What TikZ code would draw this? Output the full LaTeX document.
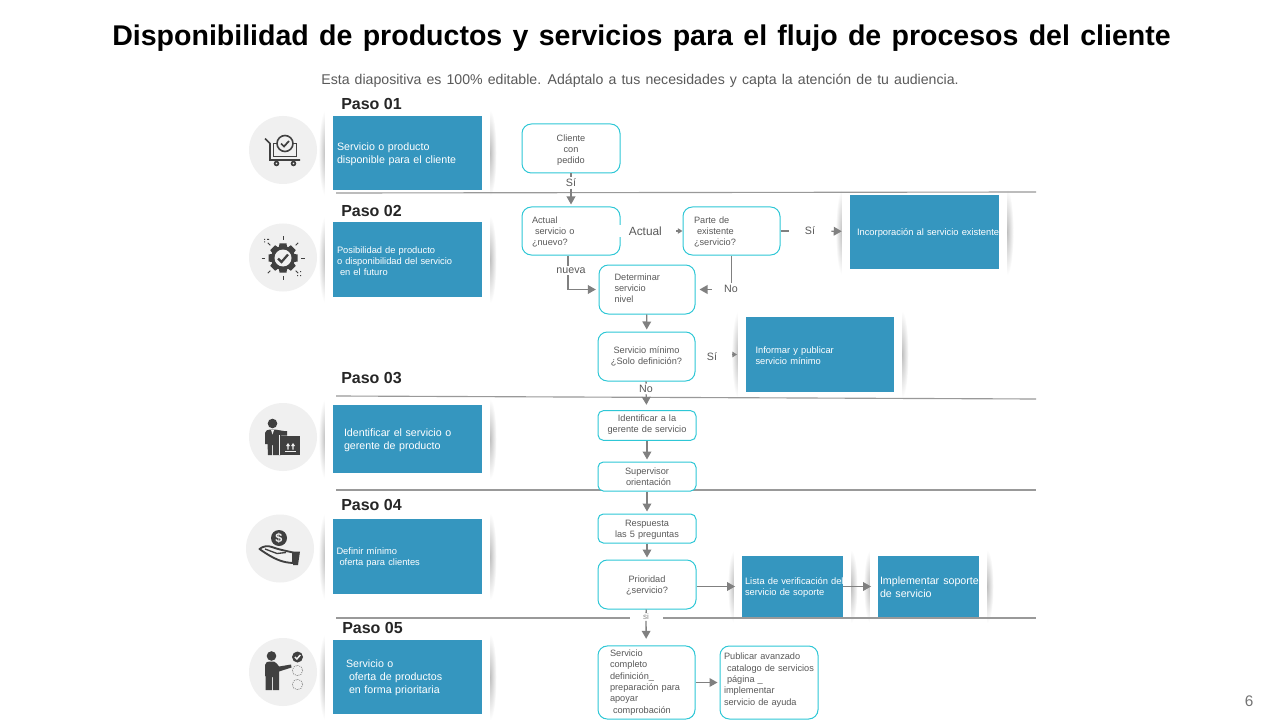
\documentclass[tikz,border=0pt]{standalone}
\usepackage{fontspec}
\setmainfont{Liberation Sans}
\newfontfamily\ttlfont[WordSpace=1.5]{Liberation Sans}
\newfontfamily\subfont[WordSpace=1.3]{Liberation Sans}
\usetikzlibrary{arrows.meta,calc,shapes.geometric}
\definecolor{bluebx}{HTML}{3596BF}
\definecolor{cyanbd}{HTML}{2EC7D6}
\definecolor{txtgray}{HTML}{595959}
\definecolor{linegray}{HTML}{808080}
\definecolor{rulegray}{HTML}{999999}
\definecolor{iconbg}{HTML}{F0F0F0}
\definecolor{icondark}{HTML}{404040}
\def\px{0.75pt}
\newcommand{\ind}{\hspace*{2.25pt}}
\newcommand{\fnt}[2]{\fontsize{#1pt}{#2pt}\selectfont}
\newcommand{\sideglow}[4]{%
 \shade[inner color=black!25,outer color=white] (#1-8,{(#3+#4)/2}) ellipse [x radius=6.5,y radius={(#4-#3)/2}];
 \shade[inner color=black!25,outer color=white] (#2+8,{(#3+#4)/2}) ellipse [x radius=6.5,y radius={(#4-#3)/2}];
 \fill[white] (#1-8,#3) rectangle (#2+8,#4);}
\tikzset{
 headroom/.style={execute at begin node={\leavevmode\rule{0pt}{#1pt}}},
 footroom/.style={execute at begin node={\leavevmode},execute at end node={\rule[-#1pt]{0pt}{#1pt}}},
 bluebox/.style n args={3}{rectangle,fill=bluebx,text=white,minimum width=#1*\px,minimum height=#2*\px,
   text width=(#1-2*#3)*\px,inner xsep=#3*\px,inner ysep=0pt,align=left,font=\fnt{7}{8.25},headroom=7.4},
 bigtext/.style={font=\fnt{8}{9.75}},
 flowbox/.style n args={3}{rectangle,draw=cyanbd,fill=white,line width=0.75pt,rounded corners=7pt,text=txtgray,
   minimum width=#1*\px,minimum height=#2*\px,text width=(#1-2*#3)*\px,inner xsep=#3*\px,inner ysep=0pt,
   align=left,font=\fnt{6.9}{8.25},headroom=7.8},
 smallr/.style={rounded corners=4pt},
 steplabel/.style={font=\fnt{12}{14}\bfseries,text=black!85,anchor=west,inner sep=0pt},
 lab/.style={text=txtgray,font=\fnt{8}{9.5},inner xsep=0pt,inner ysep=1pt,fill=white},
 conn/.style={draw=linegray,line width=1pt},
 flow/.style={conn,-{Triangle[length=6pt,width=6.5pt]},shorten >=1.5pt},
 tinyflow/.style={conn,-{Triangle[length=3.5pt,width=4pt]}},
 rulel/.style={draw=rulegray,line width=0.85pt},
 badge/.style={fill=iconbg},
 inkline/.style={draw=icondark,line width=1.2pt},
}
\begin{document}
\begin{tikzpicture}[x=0.75pt,y=-0.75pt]
\path[use as bounding box,fill=white] (0,0) rectangle (1280,720);
% texts on top
\node[inner sep=0pt,font=\ttlfont\fnt{21.4}{25}\bfseries,text=black] (title) at (641.5,38) {Disponibilidad de productos y servicios para el flujo de procesos del cliente};
\node[inner sep=0pt,font=\subfont\fnt{10.6}{13},text=txtgray] (subtitle) at (640,81) {Esta diapositiva es 100\% editable. Adáptalo a tus necesidades y capta la atención de tu audiencia.};
\node[inner sep=0pt,font=\fnt{11.5}{14},text=black!55] (pageno) at (1249,701) {6};
% side shadows
\sideglow{333}{482}{110}{196}
\sideglow{333}{482}{216}{303}
\sideglow{333}{482}{399}{479}
\sideglow{333}{482}{513}{600}
\sideglow{333}{482}{634}{720}
\sideglow{850}{999}{189}{275}
\sideglow{746}{894}{311}{398}
\sideglow{742}{843}{550}{623}
\sideglow{878}{979}{550}{623}
% rules
\coordinate (r1a) at (336,193); \coordinate (r1b) at (1036,192);
\coordinate (r2a) at (336,396); \coordinate (r2b) at (1036,399);
\coordinate (r3a) at (336,490); \coordinate (r3b) at (1036,490);
\coordinate (r4a) at (336,618); \coordinate (r4b) at (1036,618);
\draw[rulel] (r1a) -- (r1b);
\draw[rulel] (r2a) -- (r2b);
\draw[rulel] (r3a) -- (r3b);
\draw[rulel] (r4a) -- (r4b);
% step labels
\node[steplabel] (p1) at (341,103.5) {Paso 01};
\node[steplabel] (p2) at (341,211) {Paso 02};
\node[steplabel] (p3) at (341,378) {Paso 03};
\node[steplabel] (p4) at (341,505) {Paso 04};
\node[steplabel] (p5) at (342,628) {Paso 05};
% blue boxes
\node[bluebox={149}{74}{4},bigtext] (b1) at (407.5,153) {Servicio o producto\\disponible para el cliente};
\node[bluebox={149}{75}{4},headroom=5.9] (b2) at (407.5,259.5) {Posibilidad de producto\\o disponibilidad del servicio\\\ind{}en el futuro};
\node[bluebox={149}{68}{11},bigtext] (b3) at (407.5,439) {Identificar el servicio o\\gerente de producto};
\node[bluebox={149}{75}{3.5}] (b4) at (407.5,556.5) {Definir mínimo\\\ind{}oferta para clientes};
\node[bluebox={149}{74}{13},bigtext] (b5) at (407.5,677) {Servicio o\\\ind{}oferta de productos\\\ind{}en forma prioritaria};
\node[bluebox={149}{74}{7}] (binc) at (924.5,232) {\mbox{Incorporación al servicio existente}};
\node[bluebox={148}{75}{9.5},headroom=5.9] (binf) at (820,354.5) {Informar y publicar\\servicio mínimo};
\node[bluebox={101}{61}{3}] (blis) at (792.5,586.5) {\mbox{Lista de verificación del}\\servicio de soporte};
\node[bluebox={101}{61}{2},bigtext] (bimp) at (928.5,586.5) {\mbox{Implementar\hspace{3pt}soporte}\\de servicio};
% flow boxes
\node[flowbox={98}{49}{5},align=center] (fcli) at (571,148.5) {Cliente\\con\\pedido};
\node[flowbox={98}{48}{10},footroom=3] (fact) at (571,231) {Actual\\\ind{}servicio o\\¿nuevo?};
\node[flowbox={97}{48}{11},footroom=3] (fpar) at (731.5,231) {Parte de\\\ind{}existente\\¿servicio?};
\node[flowbox={96}{49}{15.5},footroom=4.5] (fdet) at (647,289.5) {Determinar\\servicio\\nivel};
\node[flowbox={97}{49}{3},align=center,footroom=3.9,font=\fnt{6.9}{7.9}] (fmin) at (646.5,356.5) {Servicio mínimo\\¿Solo definición?};
\node[flowbox={98}{29}{3},smallr,align=center,footroom=6.2] (fida) at (647,425.5) {Identificar a la\\gerente de servicio};
\node[flowbox={98}{29}{3},smallr,align=center,footroom=3] (fsup) at (647,476.5) {Supervisor\\\ind{}orientación};
\node[flowbox={98}{29}{3},smallr,align=center,footroom=3] (fres) at (647,528.5) {Respuesta\\las 5 preguntas};
\node[flowbox={98}{49}{3},align=center,footroom=3] (fpri) at (647,584.5) {Prioridad\\¿servicio?};
\node[flowbox={97}{73}{12},font=\fnt{6.9}{8.5},footroom=4.5] (fcom) at (646.5,682.5) {Servicio\\completo\\definición\_\\preparación para\\apoyar\\\ind{}comprobación};
\node[flowbox={98}{73}{4},font=\fnt{6.9}{8.5},footroom=7.7] (fpub) at (769,682.5) {Publicar avanzado\\\ind{}catalogo de servicios\\\ind{}página \_\\implementar\\servicio de ayuda};
% connector labels
\node[lab] (lsi1) at (571,183) {Sí};
\node[lab,font=\fnt{8.9}{10.5},minimum width=60*\px,text depth=0pt] (lact) at (646,231) {\hspace*{-1pt}Actual};
\node[lab,minimum width=42*\px] (lsi2) at (810,231) {Sí};
\node[lab] (lnue) at (571,270.5) {nueva};
\node[lab,minimum width=38*\px] (lno1) at (731,288.5) {No};
\node[lab,minimum width=35*\px] (lsi3) at (714,357) {Sí\hspace*{3pt}};
\node[lab] (lno2) at (646,389) {No};
\node[lab,font=\fnt{6}{7},text=black!45,minimum width=33*\px,inner ysep=0.5pt] (lsi4) at (646,617) {si};
% connectors
\draw[conn] (fcli) -- (lsi1);
\draw[flow] (lsi1) -- (fact);
\draw[tinyflow] (lact) -- (fpar);
\draw[conn] (fpar.east) -- (lsi2.west);
\draw[flow,shorten >=6pt] (lsi2) -- (binc);
\draw[conn] ($(fact.south)+(-3,0)$) -- ($(lnue.north)+(-3,0)$);
\draw[flow,shorten >=2pt] ($(lnue.south)+(-3,0)$) |- (fdet.west);
\draw[conn] (fpar.south) -- (fpar.south |- lno1.north);
\draw[flow,shorten >=3pt] (lno1.west |- fdet.east) -- (fdet.east);
\draw[flow] (fdet) -- (fmin);
\draw[tinyflow,shorten >=6.5pt] (lsi3.east |- binf.west) -- (binf.west);
\draw[conn] (fmin) -- (lno2);
\draw[flow,shorten >=4pt] (lno2) -- (fida);
\draw[flow] (fida) -- (fsup);
\draw[flow] (fsup) -- (fres);
\draw[flow] (fres) -- (fpri);
\draw[flow,shorten >=5pt] (fpri.east |- blis.west) -- (blis.west);
\draw[flow,shorten >=5pt] (blis.east) -- (bimp.west);
\draw[conn] (fpri) -- (lsi4);
\draw[flow,shorten >=5pt] (lsi4) -- (fcom);
\draw[flow] (fcom.east) -- (fpub.west);
% badges
\fill[badge] (283,150) circle[radius=34];
\fill[badge] (283,257.5) circle[radius=34];
\fill[badge] (283,437) circle[radius=34];
\fill[badge] (280,548.5) circle[radius=34];
\fill[badge] (283,672) circle[radius=34];
% icon 1: cart
\draw[inkline] (265,138.5) -- (270,143.5) -- (270,160) -- (300,160);
\draw[inkline] (273.5,143.5) -- (273.5,156.5) -- (296.5,156.5) -- (296.5,143.5) -- cycle;
\fill[icondark] (276.5,163.5) circle[radius=2.8]; \fill[iconbg] (276.5,163.5) circle[radius=0.9];
\fill[icondark] (293.5,163.5) circle[radius=2.8]; \fill[iconbg] (293.5,163.5) circle[radius=0.9];
\draw[inkline,fill=iconbg] (285,143.5) circle[radius=8];
\draw[inkline,line width=1.3pt] (281,143.5) -- (284,146.5) -- (289,141);
% icon 2: gear
\foreach \a in {0,45,...,315}{
 \fill[icondark,rotate around={\a:(283,258)}] (279.5,243.5) -- (286.5,243.5) -- (287.5,250) -- (278.5,250) -- cycle;
 \draw[icondark,line width=0.7pt,rotate around={\a:(283,258)}] (283,236.5) -- (283,240);}
\fill[icondark] (283,258) circle[radius=12];
\fill[iconbg] (283,258) circle[radius=8.5];
\draw[icondark,line width=1.7pt] (278,258.5) -- (281.5,262) -- (288,254.5);
\fill[icondark] (264,239) rectangle (265,240) (267,239) rectangle (269,240) (264,241.5) rectangle (265,242.5);
\fill[icondark] (297,275) rectangle (298,276) (300,271) rectangle (301,272) (300,275) rectangle (301,276);
% icon 3: manager with box
\fill[icondark] (272.5,423.5) circle[radius=4.8];
\fill[icondark] (265,433) .. controls (265,430) and (268,430) .. (270,429.5) -- (275,429.5) -- (284,431) -- (287,431) -- (287,435.5) -- (281,435.5) -- (281,455) -- (273.2,455) -- (273.2,445) -- (272.2,445) -- (272.2,455) -- (268,455) -- (267.5,444) -- (265,444) -- cycle;
\fill[iconbg] (271,430) -- (274,430) -- (272.5,434.5) -- cycle;
\fill[iconbg] (279,435.2) rectangle (280,455);
\fill[icondark] (280,435.5) rectangle (300,454.5);
\fill[iconbg] (286,446) -- (288,443) -- (290,446) -- (288.7,446) -- (288.7,449.5) -- (287.3,449.5) -- (287.3,446) -- cycle;
\fill[iconbg] (291,446) -- (293,443) -- (295,446) -- (293.7,446) -- (293.7,449.5) -- (292.3,449.5) -- (292.3,446) -- cycle;
\fill[iconbg] (285,450.5) rectangle (296,451.5);
% icon 4: hand and coin
\node[circle,fill=icondark,text=iconbg,inner sep=0pt,minimum size=16*\px,font=\fnt{9.5}{10}\bfseries] (coin) at (279,538) {\$};
\draw[inkline,line width=1.4pt,line join=round,fill=iconbg] (259.5,549) .. controls (263,546) and (268,545.5) .. (272,547) .. controls (277,549) and (282,550) .. (293,552.5) -- (293,563) .. controls (283,562.5) and (275,560) .. (259.5,549) -- cycle;
\draw[inkline,line width=1pt] (265,549) -- (277,553.5) -- (286,552.5);
\fill[icondark] (293,551.5) -- (300,551.5) -- (298,565) -- (293,565) -- cycle;
% icon 5: presenter with checklist
\fill[icondark] (271.5,656) circle[radius=4.8];
\fill[icondark] (265,665) .. controls (265,662) and (268,661.5) .. (270,661.5) -- (274,661.5) .. controls (276,662) and (278,665) .. (279,666.5) -- (291,664.5) -- (291.5,667.5) -- (279,671.5) -- (279,690) -- (272.8,690) -- (272.8,677) -- (271.8,677) -- (271.8,690) -- (265.5,690) -- (265.5,676) -- (265,676) -- cycle;
\fill[icondark] (297.5,657) circle[radius=5.5];
\draw[iconbg,line width=1.1pt] (294.8,657) -- (296.8,659) -- (300.3,655);
\draw[icondark,line width=0.5pt,densely dotted] (297.5,670.5) circle[radius=5.2];
\draw[icondark,line width=0.5pt,densely dotted] (297.5,684.5) circle[radius=5.2];
\end{tikzpicture}
\end{document}
